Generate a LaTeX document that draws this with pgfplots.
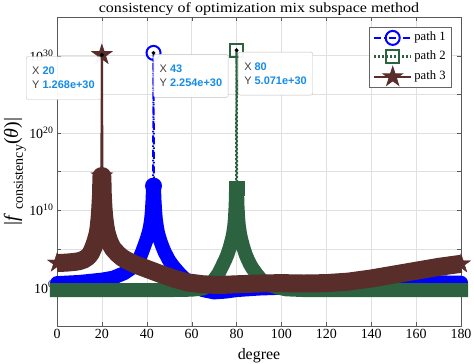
\documentclass[border=0pt]{standalone}
\usepackage{fontspec}
\setmainfont{Liberation Serif}
\newfontfamily\tipfont{Liberation Sans}
\usepackage{pgfplots}
\pgfplotsset{compat=1.18}
\definecolor{p1}{rgb}{0,0,1}
\definecolor{p2}{RGB}{44,98,64}
\definecolor{p3}{RGB}{88,45,42}
\definecolor{tipblue}{RGB}{20,140,235}
\pgfdeclareplotmark{pentagram}{%
 \pgfpathmoveto{\pgfpointpolar{90}{\pgfplotmarksize}}%
 \pgfpathlineto{\pgfpointpolar{126}{0.382\pgfplotmarksize}}%
 \pgfpathlineto{\pgfpointpolar{162}{\pgfplotmarksize}}%
 \pgfpathlineto{\pgfpointpolar{198}{0.382\pgfplotmarksize}}%
 \pgfpathlineto{\pgfpointpolar{234}{\pgfplotmarksize}}%
 \pgfpathlineto{\pgfpointpolar{270}{0.382\pgfplotmarksize}}%
 \pgfpathlineto{\pgfpointpolar{306}{\pgfplotmarksize}}%
 \pgfpathlineto{\pgfpointpolar{342}{0.382\pgfplotmarksize}}%
 \pgfpathlineto{\pgfpointpolar{18}{\pgfplotmarksize}}%
 \pgfpathlineto{\pgfpointpolar{54}{0.382\pgfplotmarksize}}%
 \pgfpathclose
 \pgfusepathqfillstroke
}
\begin{document}
\begin{tikzpicture}
\begin{axis}[
  at={(0,0)}, anchor=south west,
  scale only axis, width=404bp, height=309bp,
  xmin=0, xmax=180, ymode=log, ymin=1e-5, ymax=1e35,
  xtick={0,20,...,180},
  ytick={1,1e10,1e20,1e30},
  yticklabels={10\textsuperscript{0},10\textsuperscript{10},10\textsuperscript{20},10\textsuperscript{30}},
  minor ytick={1e-5,1e5,1e15,1e25,1e35},
  grid=both, major grid style={black!12}, minor grid style={black!12},
  tick align=inside,
  axis line style={black!65},
  tick style={black!65},
  major tick length=4bp, minor tick length=4bp,
  ticklabel style={font=\fontsize{14}{14}\selectfont},
  /pgf/number format/assume math mode=true,
  xlabel={degree},
  xlabel style={font=\fontsize{16}{16}\selectfont, at={(axis description cs:0.5,0)}, anchor=north, inner sep=0pt, yshift=-22bp},
  ylabel={|\textit{f}\,\raisebox{-5bp}{\fontsize{14}{14}\selectfont consistency}(\textit{θ})|},
  ylabel style={font=\fontsize{20}{20}\selectfont, at={(axis description cs:-0.104,0.5)}, anchor=center},
  title={\scalebox{1.15}[1]{consistency of optimization mix subspace method}},
  title style={font=\fontsize{14}{14}\selectfont, at={(axis description cs:0.5,1)}, anchor=south, inner sep=0pt, yshift=-4.5bp},
  clip=false,
  legend style={at={(axis description cs:1,1)}, anchor=north east, xshift=-9bp, yshift=-10bp,
    draw=black!60, line width=0.8bp, fill=white, font=\fontsize{12.7}{12.7}\selectfont,
    inner xsep=4bp, inner ysep=2.5bp, row sep=2.5bp,
    nodes={inner sep=2bp, text height=9bp, text depth=3bp}},
  legend cell align=left,
  legend image code/.code={\draw[mark repeat=2,mark phase=2,#1] plot coordinates {(0bp,0bp) (18.5bp,0bp) (37bp,0bp)};},
]
% ---- path 1 band
\addplot[forget plot, p1, line width=14bp, line cap=round, line join=round] coordinates {
(0,3.55) (10,5.01) (20,10) (25,17.8) (30,70.8) (33,282) (35,1.12e3) (37,8.91e3) (38,4.47e4) (39,2.82e5)
(40,1.78e6) (41,1.78e7) (41.5,8.91e7) (42,8.91e8) (42.3,8.91e9) (42.6,2.82e11) (42.8,1.41e13)
(43.2,1.41e13) (43.4,2.82e11) (43.7,8.91e9) (44,7.08e8) (44.5,7.08e7) (45,1.12e7) (46,1.12e6) (47,1.78e5)
(48,3.55e4) (50,2.82e3) (52,447) (55,44.7) (58,7.08) (61,1.41) (65,0.447) (70,0.224) (75,0.282)
(80,0.447) (90,0.708) (100,0.891) (110,0.891) (120,1.12) (130,1.41) (140,1.78) (150,2.82) (160,3.98)
(170,4.47) (180,3.98)};
\addplot[p1, line width=2bp, dash pattern=on 7bp off 3bp on 1.5bp off 3bp, mark=o, mark size=7bp,
  mark options={solid, line width=2bp}] coordinates {(42.8,1.41e13) (43,2.254e30) (43.2,1.41e13)};
\addlegendentry{path 1}
% ---- path 2 band
\addplot[forget plot, p2, line width=14bp, line cap=rect, line join=round] coordinates {
(0,0.447) (30,0.447) (50,0.447) (60,0.501) (65,0.708) (68,2.0) (70,10) (72,63.1) (73,251) (74,1e3)
(75,3.98e3) (76,2e4) (77,1.58e5) (78,2e6) (78.5,1e7) (79,1e8) (79.3,1e9) (79.6,3.98e10) (79.8,7.08e12)
(80.2,7.08e12) (80.4,3.98e10) (80.7,1e9) (81,1e8) (81.5,1e7) (82,2e6) (83,1.58e5) (84,2e4) (85,3.98e3)
(86,1e3) (87,316) (89,50.1) (91,10) (94,2.51) (98,1) (102,0.562) (110,0.447) (140,0.447) (180,0.447)};
\addplot[p2, line width=2.2bp, dash pattern=on 2bp off 2bp, mark=square, mark size=6.5bp,
  mark options={solid, line width=2.2bp}] coordinates {(79.8,7.08e12) (80,5.071e30) (80.2,7.08e12)};
\addlegendentry{path 2}
% ---- path 3 band
\addplot[forget plot, p3, line width=18bp, line cap=butt, line join=round] coordinates {
(0,1.41e3) (4,1.58e3) (8,2.0e3) (10,2.51e3) (12,3.98e3) (14,1e4) (15,2.51e4) (16,1e5) (17,6.31e5)
(18,6.31e6) (18.5,3.98e7) (19,1e9) (19.3,2.0e10) (19.6,7.94e11) (19.8,2.51e14)
(20.2,2.51e14) (20.4,7.94e11) (20.7,2.0e10) (21,1.58e9) (21.5,1e8) (22,1.58e7) (23,1.58e6) (24,3.16e5)
(25,1e5) (27,2.24e4) (29,7.08e3) (31,3.16e3) (35,891) (40,251) (46,56.2) (52,14.1) (58,4.47) (65,2.51)
(72,2.0) (80,2.51) (90,3.16) (100,3.55) (110,3.16) (120,3.55) (130,5.62) (140,14.1) (150,44.7)
(160,141) (170,447) (180,1.12e3)};
\addplot[forget plot, only marks, p3, mark=pentagram, mark size=10bp, mark options={fill=p3}]
  coordinates {(0,1.41e3) (180,1.12e3)};
\addplot[p3, line width=2.2bp, mark=pentagram, mark size=10bp, mark options={fill=p3, line width=1bp}]
  coordinates {(19.8,2.51e14) (20,1.268e30) (20.2,2.51e14)};
\addlegendentry{path 3}
% ---- data tip dots
\addplot[forget plot, only marks, mark=*, mark size=1.8bp, black]
  coordinates {(20,1.268e30) (43,2.254e30) (80,5.071e30)};
\coordinate (t1) at (axis cs:20,1.268e30);
\coordinate (t2) at (axis cs:43,2.254e30);
\coordinate (t3) at (axis cs:80,5.071e30);
\end{axis}
\tikzset{tip/.style={draw=black!25, fill=white, fill opacity=0.95, text opacity=1, rounded corners=2bp,
  inner xsep=6bp, inner ysep=0pt, minimum height=43bp, align=left,
  font=\tipfont\fontsize{11}{14.3}\selectfont, text=black!75}}
\node[tip, anchor=north east] at ([shift={(-1bp,-1.5bp)}]t1) {X \textcolor{tipblue}{\bfseries 20}\\Y \textcolor{tipblue}{\bfseries 1.268e+30}};
\node[tip, anchor=north west] at ([shift={(0bp,-1.3bp)}]t2) {X \textcolor{tipblue}{\bfseries 43}\\Y \textcolor{tipblue}{\bfseries 2.254e+30}};
\node[tip, anchor=north west] at ([shift={(1.5bp,-1.7bp)}]t3) {X \textcolor{tipblue}{\bfseries 80}\\Y \textcolor{tipblue}{\bfseries 5.071e+30}};
\pgfresetboundingbox
\path (-57bp,-38bp) rectangle (417bp,326bp);
\end{tikzpicture}
\end{document}
